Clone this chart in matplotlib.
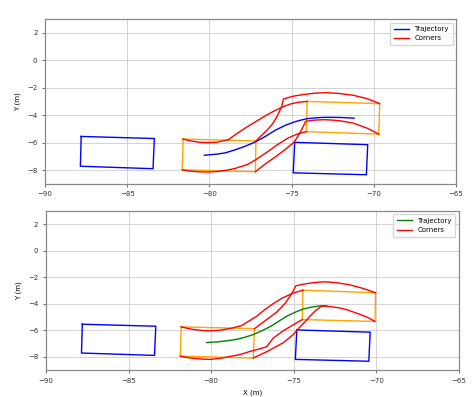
# Parking manoeuvre: trajectory and corner paths (two runs)

import numpy as np
import matplotlib
matplotlib.use("Agg")
import matplotlib.pyplot as plt

# parked cars (same in both runs)
car_left_x = [-87.8, -83.35, -83.43, -87.85]
car_left_y = [-5.55, -5.7, -7.9, -7.72]
car_right_x = [-74.81, -70.37, -70.45, -74.9]
car_right_y = [-5.98, -6.15, -8.34, -8.2]

# ---- run 1 (top) ----
start1_x = [-81.6, -77.17, -77.2, -81.65]
start1_y = [-5.74, -5.88, -8.12, -7.98]
goal1_x = [-74.06, -69.64, -69.7, -74.1]
goal1_y = [-3.0, -3.16, -5.38, -5.2]

traj1_x = [-80.31, -79.56, -79.05, -78.55, -77.9, -77.2, -76.6, -76.0, -75.4, -74.8, -74.4, -74.08,
           -73.6, -73.07, -72.5, -72.0, -71.2]
traj1_y = [-6.92, -6.84, -6.75, -6.57, -6.3, -5.95, -5.55, -5.1, -4.75, -4.48, -4.35, -4.26,
           -4.2, -4.16, -4.16, -4.17, -4.22]

rl1_x = [-81.6, -81.2, -80.7, -80.1, -79.5, -78.85, -78.4, -78.0, -77.5, -77.03, -76.5, -76.0,
         -75.5, -75.1, -74.6, -74.06]
rl1_y = [-5.74, -5.86, -5.96, -6.01, -5.96, -5.79, -5.4, -5.08, -4.7, -4.36, -3.98, -3.66,
         -3.38, -3.2, -3.06, -3.0]
fl1_x = [-77.17, -76.85, -76.5, -76.2, -75.91, -75.75, -75.6, -75.5, -74.9, -74.3, -73.6, -72.9,
         -72.1, -71.25, -70.4, -69.64]
fl1_y = [-5.88, -5.5, -5.1, -4.7, -4.15, -3.75, -3.35, -2.82, -2.62, -2.5, -2.4, -2.36,
         -2.42, -2.55, -2.8, -3.16]
rr1_x = [-81.65, -81.2, -80.7, -80.07, -79.5, -78.9, -78.44, -77.7, -77.23, -76.5, -75.9, -75.2,
         -74.6, -74.1]
rr1_y = [-7.98, -8.07, -8.12, -8.14, -8.1, -8.0, -7.88, -7.6, -7.28, -6.7, -6.18, -5.65,
         -5.35, -5.2]
fr1_x = [-77.2, -76.6, -76.0, -75.5, -74.9, -74.7, -74.5, -74.3, -74.15, -73.6, -73.0, -72.5,
         -72.0, -71.25, -70.4, -69.7]
fr1_y = [-8.12, -7.55, -7.05, -6.6, -6.03, -5.7, -5.3, -4.85, -4.45, -4.36, -4.33, -4.36,
         -4.42, -4.58, -4.95, -5.38]

# ---- run 2 (bottom) ----
start2_x = [-81.81, -77.37, -77.45, -81.87]
start2_y = [-5.75, -5.88, -8.1, -7.95]
goal2_x = [-74.44, -70.04, -70.08, -74.48]
goal2_y = [-2.98, -3.18, -5.34, -5.2]

traj2_x = [-80.27, -79.6, -79.06, -78.5, -78.0, -77.45, -76.9, -76.38, -75.9, -75.43, -74.9, -74.42,
           -73.9, -73.41, -73.0]
traj2_y = [-6.93, -6.88, -6.8, -6.7, -6.55, -6.33, -6.03, -5.7, -5.32, -4.95, -4.64, -4.4,
           -4.25, -4.17, -4.17]

rl2_x = [-81.81, -81.4, -81.0, -80.5, -80.1, -79.6, -79.2, -78.7, -78.15, -77.7, -77.3, -76.8,
         -76.3, -75.73, -75.03, -74.44]
rl2_y = [-5.75, -5.87, -5.96, -6.02, -6.05, -6.02, -5.95, -5.83, -5.65, -5.3, -5.0, -4.5,
         -4.05, -3.6, -3.2, -2.98]
fl2_x = [-77.37, -76.8, -76.04, -75.5, -75.1, -74.87, -74.4, -74.0, -73.6, -73.11, -72.4, -71.6,
         -70.8, -70.04]
fl2_y = [-5.88, -5.35, -4.65, -3.95, -3.2, -2.65, -2.53, -2.45, -2.39, -2.35, -2.42, -2.58,
         -2.85, -3.18]
rr2_x = [-81.87, -81.4, -81.0, -80.5, -80.07, -79.5, -79.0, -78.6, -78.2, -77.65, -77.1, -76.64,
         -76.24, -75.64, -74.9, -74.48]
rr2_y = [-7.95, -8.07, -8.13, -8.18, -8.2, -8.13, -8.02, -7.92, -7.82, -7.6, -7.42, -7.25,
         -6.6, -6.05, -5.5, -5.2]
fr2_x = [-77.45, -76.6, -75.64, -75.0, -74.62, -74.3, -74.02, -73.7, -73.3, -72.95, -72.61, -72.2,
         -71.8, -71.0, -70.5, -70.08]
fr2_y = [-8.1, -7.6, -6.95, -6.3, -5.75, -5.35, -4.95, -4.55, -4.17, -4.2, -4.25, -4.33,
         -4.45, -4.8, -5.05, -5.34]

lw = 1.0
fs = 5


def closed(xs, ys):
    return list(xs) + [xs[0]], list(ys) + [ys[0]]


def draw(ax, traj_x, traj_y, traj_color, corners, start, goal):
    for xs, ys in [(car_left_x, car_left_y), (car_right_x, car_right_y)]:
        cx, cy = closed(xs, ys)
        ax.plot(cx, cy, color="blue", lw=lw)
    for xs, ys in [start, goal]:
        cx, cy = closed(xs, ys)
        ax.plot(cx, cy, color="orange", lw=lw)
    ax.plot(traj_x, traj_y, color=traj_color, lw=lw, label="Trajectory")
    for i, (xs, ys) in enumerate(corners):
        ax.plot(xs, ys, color="red", lw=lw, label="Corners" if i == 0 else None)
    ax.set_xlim(-90, -65)
    ax.set_ylim(-9, 3)
    ax.set_xticks(np.arange(-90, -64, 5))
    ax.set_yticks(np.arange(-8, 3, 2))
    ax.grid(True, color="#cccccc", lw=0.6)
    ax.set_ylabel("Y (m)", fontsize=fs)
    ax.tick_params(labelsize=fs, length=2, width=0.5, colors="#333333")
    for s in ax.spines.values():
        s.set_color("#888888")
        s.set_linewidth(0.9)
    ax.legend(loc="upper right", fontsize=fs, handlelength=2.2, borderpad=0.5)


fig = plt.figure(figsize=(4.74, 3.97), dpi=100)
ax1 = fig.add_axes([0.095, 0.537, 0.867, 0.415])
ax2 = fig.add_axes([0.097, 0.068, 0.871, 0.401])

draw(ax1, traj1_x, traj1_y, "blue",
     [(rl1_x, rl1_y), (fl1_x, fl1_y), (rr1_x, rr1_y), (fr1_x, fr1_y)],
     (start1_x, start1_y), (goal1_x, goal1_y))
draw(ax2, traj2_x, traj2_y, "green",
     [(rl2_x, rl2_y), (fl2_x, fl2_y), (rr2_x, rr2_y), (fr2_x, fr2_y)],
     (start2_x, start2_y), (goal2_x, goal2_y))
ax2.set_xlabel("X (m)", fontsize=fs)

fig.savefig("out.png", dpi=100)
